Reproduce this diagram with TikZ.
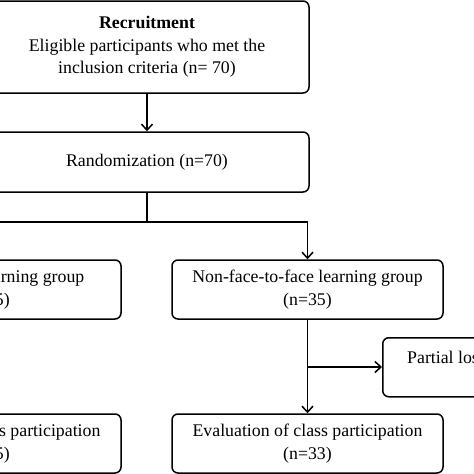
\documentclass[tikz,border=0pt]{standalone}
\usepackage{fontspec}
\setmainfont{Liberation Serif}
\usetikzlibrary{arrows.meta}
\begin{document}
\begin{tikzpicture}[x=1pt,y=-1pt,
  box/.style={draw, rounded corners=6pt, line width=1.5pt, inner sep=0pt, align=center,
    font=\fontsize{17.8}{22.5}\selectfont},
  wide/.style={minimum width=271pt, minimum height=59pt},
  conn/.style={line width=1.5pt},
  arr/.style={conn, -{Straight Barb[length=6pt,width=11pt]}}]
\useasboundingbox (0,0) rectangle (474,474);
\clip (0,0) rectangle (474,474);
\fill[white] (0,0) rectangle (474,474);
\node[box, minimum width=324pt, minimum height=92pt] (rec) at (147,47)
  {\textbf{Recruitment}\\Eligible participants who met the\\inclusion criteria (n= 70)};
\node[box, minimum width=324pt, minimum height=60pt] (rand) at (147,162)
  {Randomization (n=70)};
\node[box, wide] (fgroup) at (-14.5,289.5) {Face-to-face learning group\\(n=35)};
\node[box, wide] (ngroup) at (307.5,289.5) {Non-face-to-face learning group\\(n=35)};
\node[box, wide] (feval) at (-14.5,443.5) {Evaluation of class participation\\(n=35)};
\node[box, wide] (neval) at (307.5,443.5) {Evaluation of class participation\\(n=33)};
\node[box, anchor=north west, minimum width=200pt, minimum height=59pt] (loss) at (382,337) {};
\node[anchor=base west, inner sep=0pt, font=\fontsize{17.8}{22.5}\selectfont] (losstext) at (407,363) {Partial loss};
\coordinate (split) at (147,222);
\coordinate (branch) at (307.5,367);
\draw[arr] (rec) -- (rand);
\draw[conn] (rand.south) -- (split);
\draw[arr] (split) -| (fgroup.north);
\draw[arr] (split) -| (ngroup.north);
\draw[arr] (ngroup) -- (neval);
\draw[arr] (branch) -- (loss.west |- branch);
\end{tikzpicture}
\end{document}
